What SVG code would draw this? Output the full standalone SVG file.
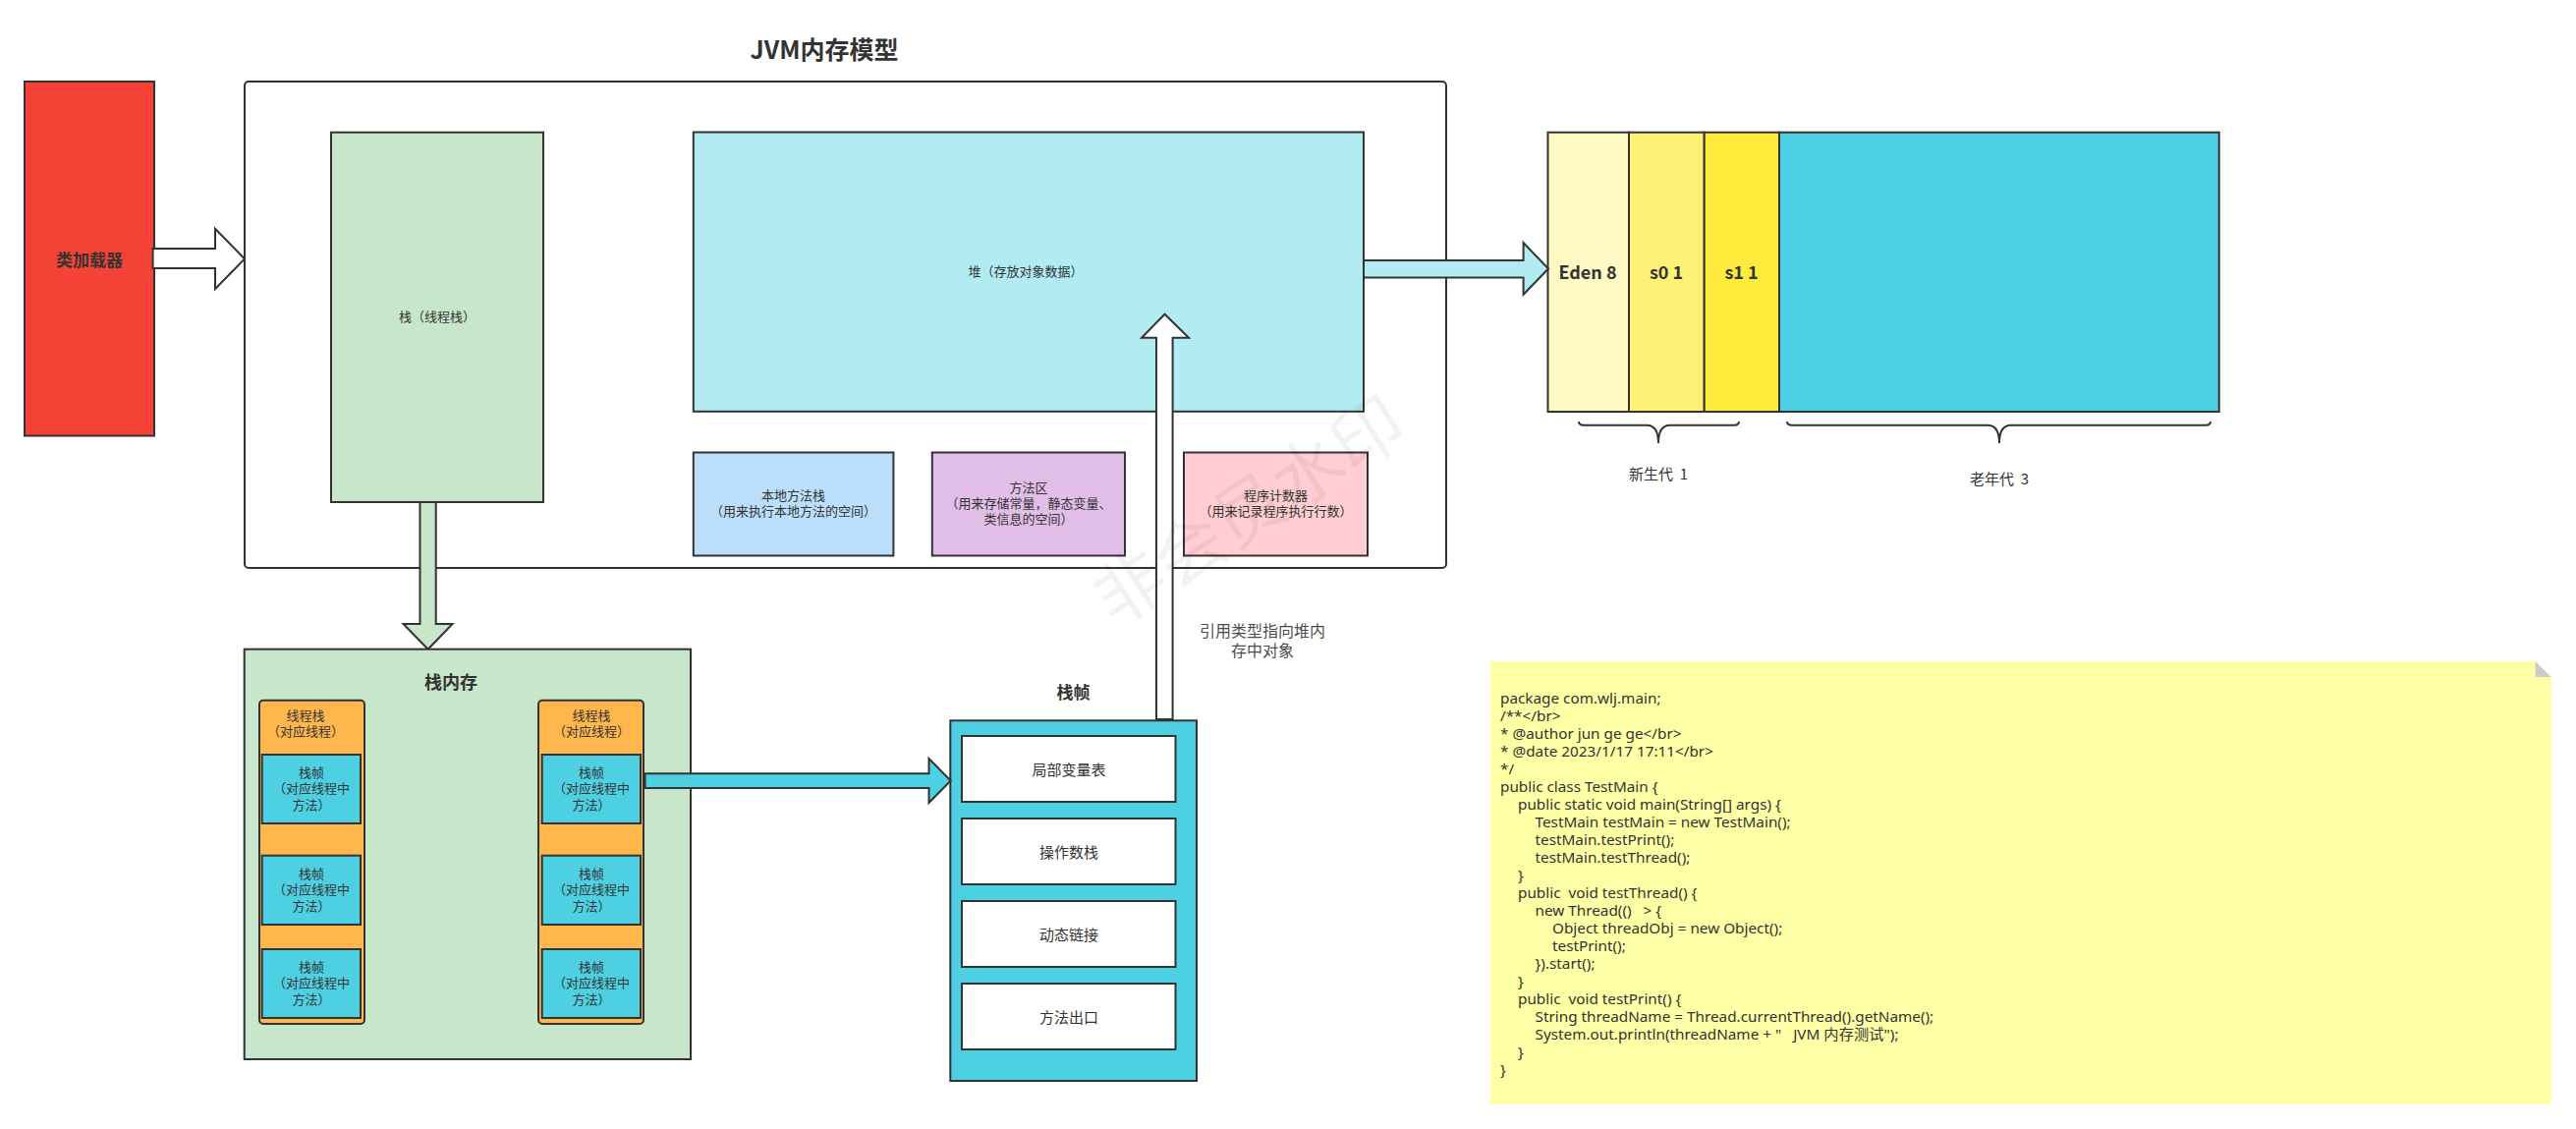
<svg xmlns="http://www.w3.org/2000/svg" width="2622" height="1149" viewBox="0 0 2622 1149">
<style>
text{font-family:"Noto Sans CJK SC","Noto Sans",sans-serif;fill:#333;text-anchor:middle;dominant-baseline:central}
.b{stroke:#333;stroke-width:2}
.s{font-size:13px}
.m{font-size:15px}
.h{font-weight:700}
.code{font-family:"Noto Sans","Noto Sans CJK SC",sans-serif;font-size:15.3px;text-anchor:start;fill:#333}
.f{fill:#4dd0e1}
.o{fill:#ffb74d}
.g{fill:#c8e6c9}
.w{fill:#fff}
.br{fill:none;stroke:#333;stroke-width:2}
</style>
<rect width="2622" height="1149" fill="#fff"/>
<text id="title" x="839" y="49" font-size="25" class="h">JVM内存模型</text>
<g id="classloader"><rect class="b" x="25" y="83" width="132" height="360.5" fill="#f44336"/><text x="91" y="263" font-size="17" font-weight="600">类加载器</text></g>
<g id="jvm"><rect class="b w" x="249" y="83" width="1223" height="495" rx="4"/></g>
<g id="connectors">
<path id="c-load" class="b w" d="M155.6 253H219V232.7L249 263.5 219 294V273H155.6Z"/>
<path id="c-stack" class="b g" d="M427.5 511V635H410.5L435.7 660.7 460.5 635H443.7V511Z"/>
</g>
<g id="stack"><rect class="b g" x="337" y="134.7" width="216" height="376.3"/><text class="s" x="445" y="321.5">栈（线程栈）</text></g>
<g id="heap"><rect class="b" x="705.8" y="134.5" width="682.2" height="284.3" fill="#b2ebf2"/><text class="s" x="1044" y="275.5">堆（存放对象数据）</text></g>
<g id="native"><rect class="b" x="705.8" y="460.5" width="203.6" height="105" fill="#bbdefb"/><text class="s" x="807.5" y="503.5">本地方法栈</text><text class="s" x="807.5" y="519.5">（用来执行本地方法的空间）</text></g>
<g id="method"><rect class="b" x="948.8" y="460.5" width="196.2" height="105" fill="#e1bee7"/><text class="s" x="1047" y="495.5">方法区</text><text class="s" x="1047" y="511.5">（用来存储常量，静态变量、</text><text class="s" x="1047" y="527.5">类信息的空间）</text></g>
<g id="pc"><rect class="b" x="1205" y="460.5" width="187" height="105" fill="#ffcdd2"/><text class="s" x="1298.5" y="503.5">程序计数器</text><text class="s" x="1298.5" y="519.5">（用来记录程序执行行数）</text></g>
<g id="young-eden"><rect class="b" x="1575.5" y="134.7" width="82.5" height="284.3" fill="#fff9c4"/><text x="1616" y="275.5" font-size="18" font-weight="600">Eden 8</text></g>
<g id="young-s0"><rect class="b" x="1658" y="134.7" width="76.7" height="284.3" fill="#fff176"/><text x="1696" y="275.5" font-size="18" font-weight="600">s0 1</text></g>
<g id="young-s1"><rect class="b" x="1734.7" y="134.7" width="76.3" height="284.3" fill="#ffeb3b"/><text x="1772.5" y="275.5" font-size="18" font-weight="600">s1 1</text></g>
<g id="old"><rect class="b f" x="1811" y="134.7" width="447.7" height="284.3"/></g>
<g id="brace-young"><path class="br" d="M1607 429Q1607 432.7 1612 432.7H1676Q1688 432.7 1688 451Q1688 432.7 1700 432.7H1765Q1770 432.7 1770 429"/><text class="m" x="1688" y="481" xml:space="preserve">新生代  1</text></g>
<g id="brace-old"><path class="br" d="M1819 429Q1819 432.7 1824 432.7H2023Q2035 432.7 2035 451Q2035 432.7 2047 432.7H2245Q2250 432.7 2250 429"/><text class="m" x="2035" y="486.5" xml:space="preserve">老年代  3</text></g>
<g id="stack-memory"><rect class="b g" x="248.7" y="660.7" width="454.3" height="417.3"/><text x="459" y="692.5" font-size="18" class="h">栈内存</text></g>
<g id="thread-a"><rect class="b o" x="264" y="712.7" width="107" height="329.3" rx="4"/><text class="s" x="311" y="727.5">线程栈</text><text class="s" x="311" y="743.5">（对应线程）</text></g>
<g id="frame-a1"><rect class="b f" x="266.7" y="768" width="100.3" height="70"/><text class="s" x="317" y="785.5">栈帧</text><text class="s" x="317" y="801.5">（对应线程中</text><text class="s" x="317" y="818.5">方法）</text></g>
<g id="frame-a2"><rect class="b f" x="266.7" y="870.7" width="100.3" height="70.3"/><text class="s" x="317" y="888.5">栈帧</text><text class="s" x="317" y="904.5">（对应线程中</text><text class="s" x="317" y="921">方法）</text></g>
<g id="frame-a3"><rect class="b f" x="266.7" y="966" width="100.3" height="70"/><text class="s" x="317" y="983.5">栈帧</text><text class="s" x="317" y="999.5">（对应线程中</text><text class="s" x="317" y="1016">方法）</text></g>
<g id="thread-b"><rect class="b o" x="548" y="712.7" width="107" height="329.3" rx="4"/><text class="s" x="602" y="727.5">线程栈</text><text class="s" x="602" y="743.5">（对应线程）</text></g>
<g id="frame-b1"><rect class="b f" x="551.7" y="768" width="100.3" height="70"/><text class="s" x="602" y="785.5">栈帧</text><text class="s" x="602" y="801.5">（对应线程中</text><text class="s" x="602" y="818.5">方法）</text></g>
<g id="frame-b2"><rect class="b f" x="551.7" y="870.7" width="100.3" height="70.3"/><text class="s" x="602" y="888.5">栈帧</text><text class="s" x="602" y="904.5">（对应线程中</text><text class="s" x="602" y="921">方法）</text></g>
<g id="frame-b3"><rect class="b f" x="551.7" y="966" width="100.3" height="70"/><text class="s" x="602" y="983.5">栈帧</text><text class="s" x="602" y="999.5">（对应线程中</text><text class="s" x="602" y="1016">方法）</text></g>
<g id="frame-detail"><text x="1092.6" y="703.5" font-size="17" class="h">栈帧</text><rect class="b f" x="967.3" y="733.3" width="250.7" height="366.7"/></g>
<g id="locals"><rect class="b w" x="979" y="749" width="217.5" height="67"/><text class="m" x="1088" y="782">局部变量表</text></g>
<g id="operands"><rect class="b w" x="979" y="833" width="217.5" height="67"/><text class="m" x="1088" y="866">操作数栈</text></g>
<g id="dynlink"><rect class="b w" x="979" y="917" width="217.5" height="67"/><text class="m" x="1088" y="950">动态链接</text></g>
<g id="exit"><rect class="b w" x="979" y="1001" width="217.5" height="67"/><text class="m" x="1088" y="1034">方法出口</text></g>
<g id="connectors-2">
<path id="c-heap" class="b" fill="#b2ebf2" d="M1388 265H1550.6V247L1576 273.5 1550.6 299.8V282.5H1388Z"/>
<path id="c-frame" class="b f" d="M656.6 787.3H945.5V772L967.7 794.5 945.5 817V802H656.6Z"/>
<path id="c-ref" class="b w" d="M1177 732V343.8H1162L1185.5 319.7 1210 343.8H1193.6V732Z"/>
<g id="c-ref-label"><text x="1285" y="640.5" font-size="16" fill-opacity=".9">引用类型指向堆内</text><text x="1285" y="660.5" font-size="16" fill-opacity=".9">存中对象</text></g>
</g>
<g id="note">
<path d="M1516.8 673.3H2580.7L2596.7 689V1124H1516.8Z" fill="#ffffa6"/>
<path d="M2580.7 673.3L2596.7 689H2580.7Z" fill="#ccc"/>
<text class="code" x="1527" y="710">package com.wlj.main;</text>
<text class="code" x="1527" y="728">/**&lt;/br&gt;</text>
<text class="code" x="1527" y="746">* @author jun ge ge&lt;/br&gt;</text>
<text class="code" x="1527" y="764">* @date 2023/1/17 17:11&lt;/br&gt;</text>
<text class="code" x="1527" y="782">*/</text>
<text class="code" x="1527" y="800">public class TestMain {</text>
<text class="code" x="1545" y="818">public static void main(String[] args) {</text>
<text class="code" x="1562.5" y="836">TestMain testMain = new TestMain();</text>
<text class="code" x="1562.5" y="854">testMain.testPrint();</text>
<text class="code" x="1562.5" y="872">testMain.testThread();</text>
<text class="code" x="1545" y="890">}</text>
<text class="code" x="1545" y="908" xml:space="preserve">public  void testThread() {</text>
<text class="code" x="1562.5" y="926" xml:space="preserve">new Thread(()   &gt; {</text>
<text class="code" x="1580" y="944">Object threadObj = new Object();</text>
<text class="code" x="1580" y="962">testPrint();</text>
<text class="code" x="1562.5" y="980">}).start();</text>
<text class="code" x="1545" y="998">}</text>
<text class="code" x="1545" y="1016" xml:space="preserve">public  void testPrint() {</text>
<text class="code" x="1562.5" y="1034">String threadName = Thread.currentThread().getName();</text>
<text class="code" x="1562.5" y="1052" xml:space="preserve">System.out.println(threadName + "   JVM 内存测试");</text>
<text class="code" x="1545" y="1070">}</text>
<text class="code" x="1527" y="1088">}</text>
</g>
<text id="watermark" x="1268" y="515" font-size="72" transform="rotate(-33 1268 515)" style="fill:#000;fill-opacity:.05">非会员水印</text>
</svg>
